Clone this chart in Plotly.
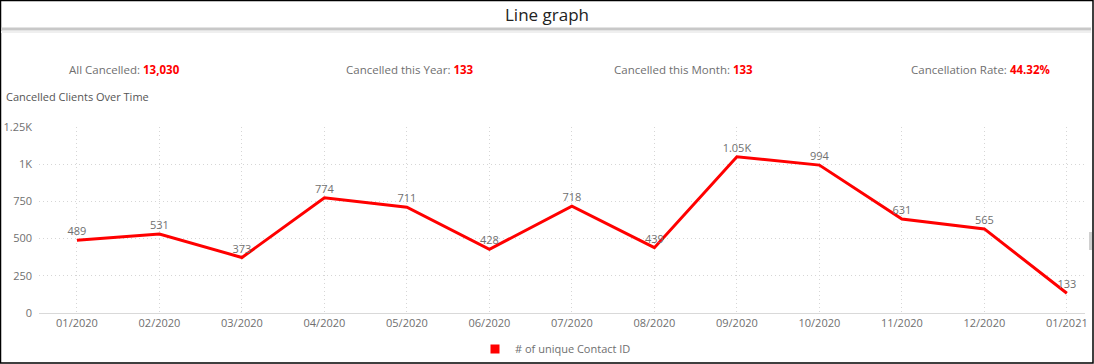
import plotly.graph_objects as go

# ---- data ----
months = ["01/2020", "02/2020", "03/2020", "04/2020", "05/2020", "06/2020", "07/2020",
          "08/2020", "09/2020", "10/2020", "11/2020", "12/2020", "01/2021"]
cancelled = [489, 531, 373, 774, 711, 428, 718, 439, 1050, 994, 631, 565, 133]
value_labels = ["489", "531", "373", "774", "711", "428", "718", "439", "1.05K", "994", "631", "565", "133"]
y_tickvals = [0, 250, 500, 750, 1000, 1250]
y_ticktext = ["0", "250", "500", "750", "1K", "1.25K"]
kpi_labels = ["All Cancelled:", "Cancelled this Year:", "Cancelled this Month:", "Cancellation Rate:"]
kpi_values = ["13,030", "133", "133", "44.32%"]
series_name = "# of unique Contact ID"

W, H = 1094, 364
ML, MR, MT, MB = 39, 9, 127, 51
PW, PH = W - ML - MR, H - MT - MB

def px(x):
    return (x - ML) / PW

def py(y):
    return (H - MB - y) / PH

FONT = "Open Sans, Segoe UI, sans-serif"
GRAY = "#6f6f6f"

idx = list(range(len(months)))
fig = go.Figure()
fig.add_trace(go.Scatter(
    x=idx, y=cancelled, mode="lines+markers+text",
    line=dict(color="#ff0000", width=3),
    marker=dict(size=2, color="#ff0000", opacity=0),
    text=value_labels, textposition="top center",
    textfont=dict(family=FONT, size=11, color="#707070"),
    showlegend=False, cliponaxis=False, hoverinfo="skip"))
fig.add_trace(go.Scatter(
    x=[None], y=[None], mode="markers", name=series_name,
    marker=dict(symbol="square", size=9, color="#ff0000")))

fig.update_xaxes(
    range=[-0.46, 12.22], tickmode="array", tickvals=idx, ticktext=months,
    showgrid=True, gridcolor="#d6d6d6", griddash="1px,3px", gridwidth=1,
    showline=True, linecolor="#d9d9d9", linewidth=1, zeroline=False, automargin=False,
    tickfont=dict(family=FONT, size=11, color=GRAY), ticks="", fixedrange=True)
fig.update_yaxes(
    range=[0, 1250], tickmode="array", tickvals=y_tickvals, ticktext=y_ticktext,
    showgrid=True, gridcolor="#d6d6d6", griddash="1px,3px", gridwidth=1,
    zeroline=False, showline=False, automargin=False,
    tickfont=dict(family=FONT, size=11, color=GRAY), ticks="", ticklabelstandoff=6)

annotations = [
    dict(text="Line graph", x=px(W / 2), y=py(14), xref="paper", yref="paper",
         showarrow=False, font=dict(family=FONT, size=17, color="#222222"),
         xanchor="center", yanchor="middle"),
    dict(text="Cancelled Clients Over Time", x=px(4), y=py(97), xref="paper", yref="paper",
         showarrow=False, font=dict(family=FONT, size=11, color="#555555"),
         xanchor="left", yanchor="middle"),
]
kpi_centers = [124, 410, 683, 980]
for lab, val, cx in zip(kpi_labels, kpi_values, kpi_centers):
    annotations.append(dict(
        text=f"<span style='color:{GRAY}'>{lab}</span> <b><span style='color:#ff0000'>{val}</span></b>",
        x=px(cx), y=py(69), xref="paper", yref="paper", showarrow=False,
        font=dict(family=FONT, size=11.5), xanchor="center", yanchor="middle"))

shapes = [
    # outer border
    dict(type="rect", xref="paper", yref="paper", x0=px(0.5), x1=px(W - 1), y0=py(H - 1), y1=py(0.5),
         line=dict(color="#000000", width=1.5), fillcolor="rgba(0,0,0,0)", layer="above"),
    # header separator
    dict(type="line", xref="paper", yref="paper", x0=px(1), x1=px(W - 3), y0=py(29), y1=py(29),
         line=dict(color="#c8c8c8", width=3)),
    dict(type="line", xref="paper", yref="paper", x0=px(1), x1=px(W - 3), y0=py(32), y1=py(32),
         line=dict(color="#efefef", width=2)),
    # right edge scrollbar hint
    dict(type="rect", xref="paper", yref="paper", x0=px(1089), x1=px(1092), y0=py(250), y1=py(232),
         line=dict(width=0), fillcolor="#d0d0d0"),
]

fig.update_layout(
    width=W, height=H, autosize=False,
    margin=dict(l=ML, r=MR, t=MT, b=MB, pad=0, autoexpand=False),
    paper_bgcolor="white", plot_bgcolor="white",
    font=dict(family=FONT, size=11, color=GRAY),
    annotations=annotations, shapes=shapes,
    legend=dict(orientation="h", x=px(475), xanchor="left", y=py(349), yanchor="middle",
                font=dict(family=FONT, size=11, color=GRAY), itemwidth=30,
                bgcolor="rgba(0,0,0,0)"),
)

fig.write_html("out.html", config={"displayModeBar": False},
               post_script="document.body.style.margin='0px';document.body.style.overflow='hidden';")
